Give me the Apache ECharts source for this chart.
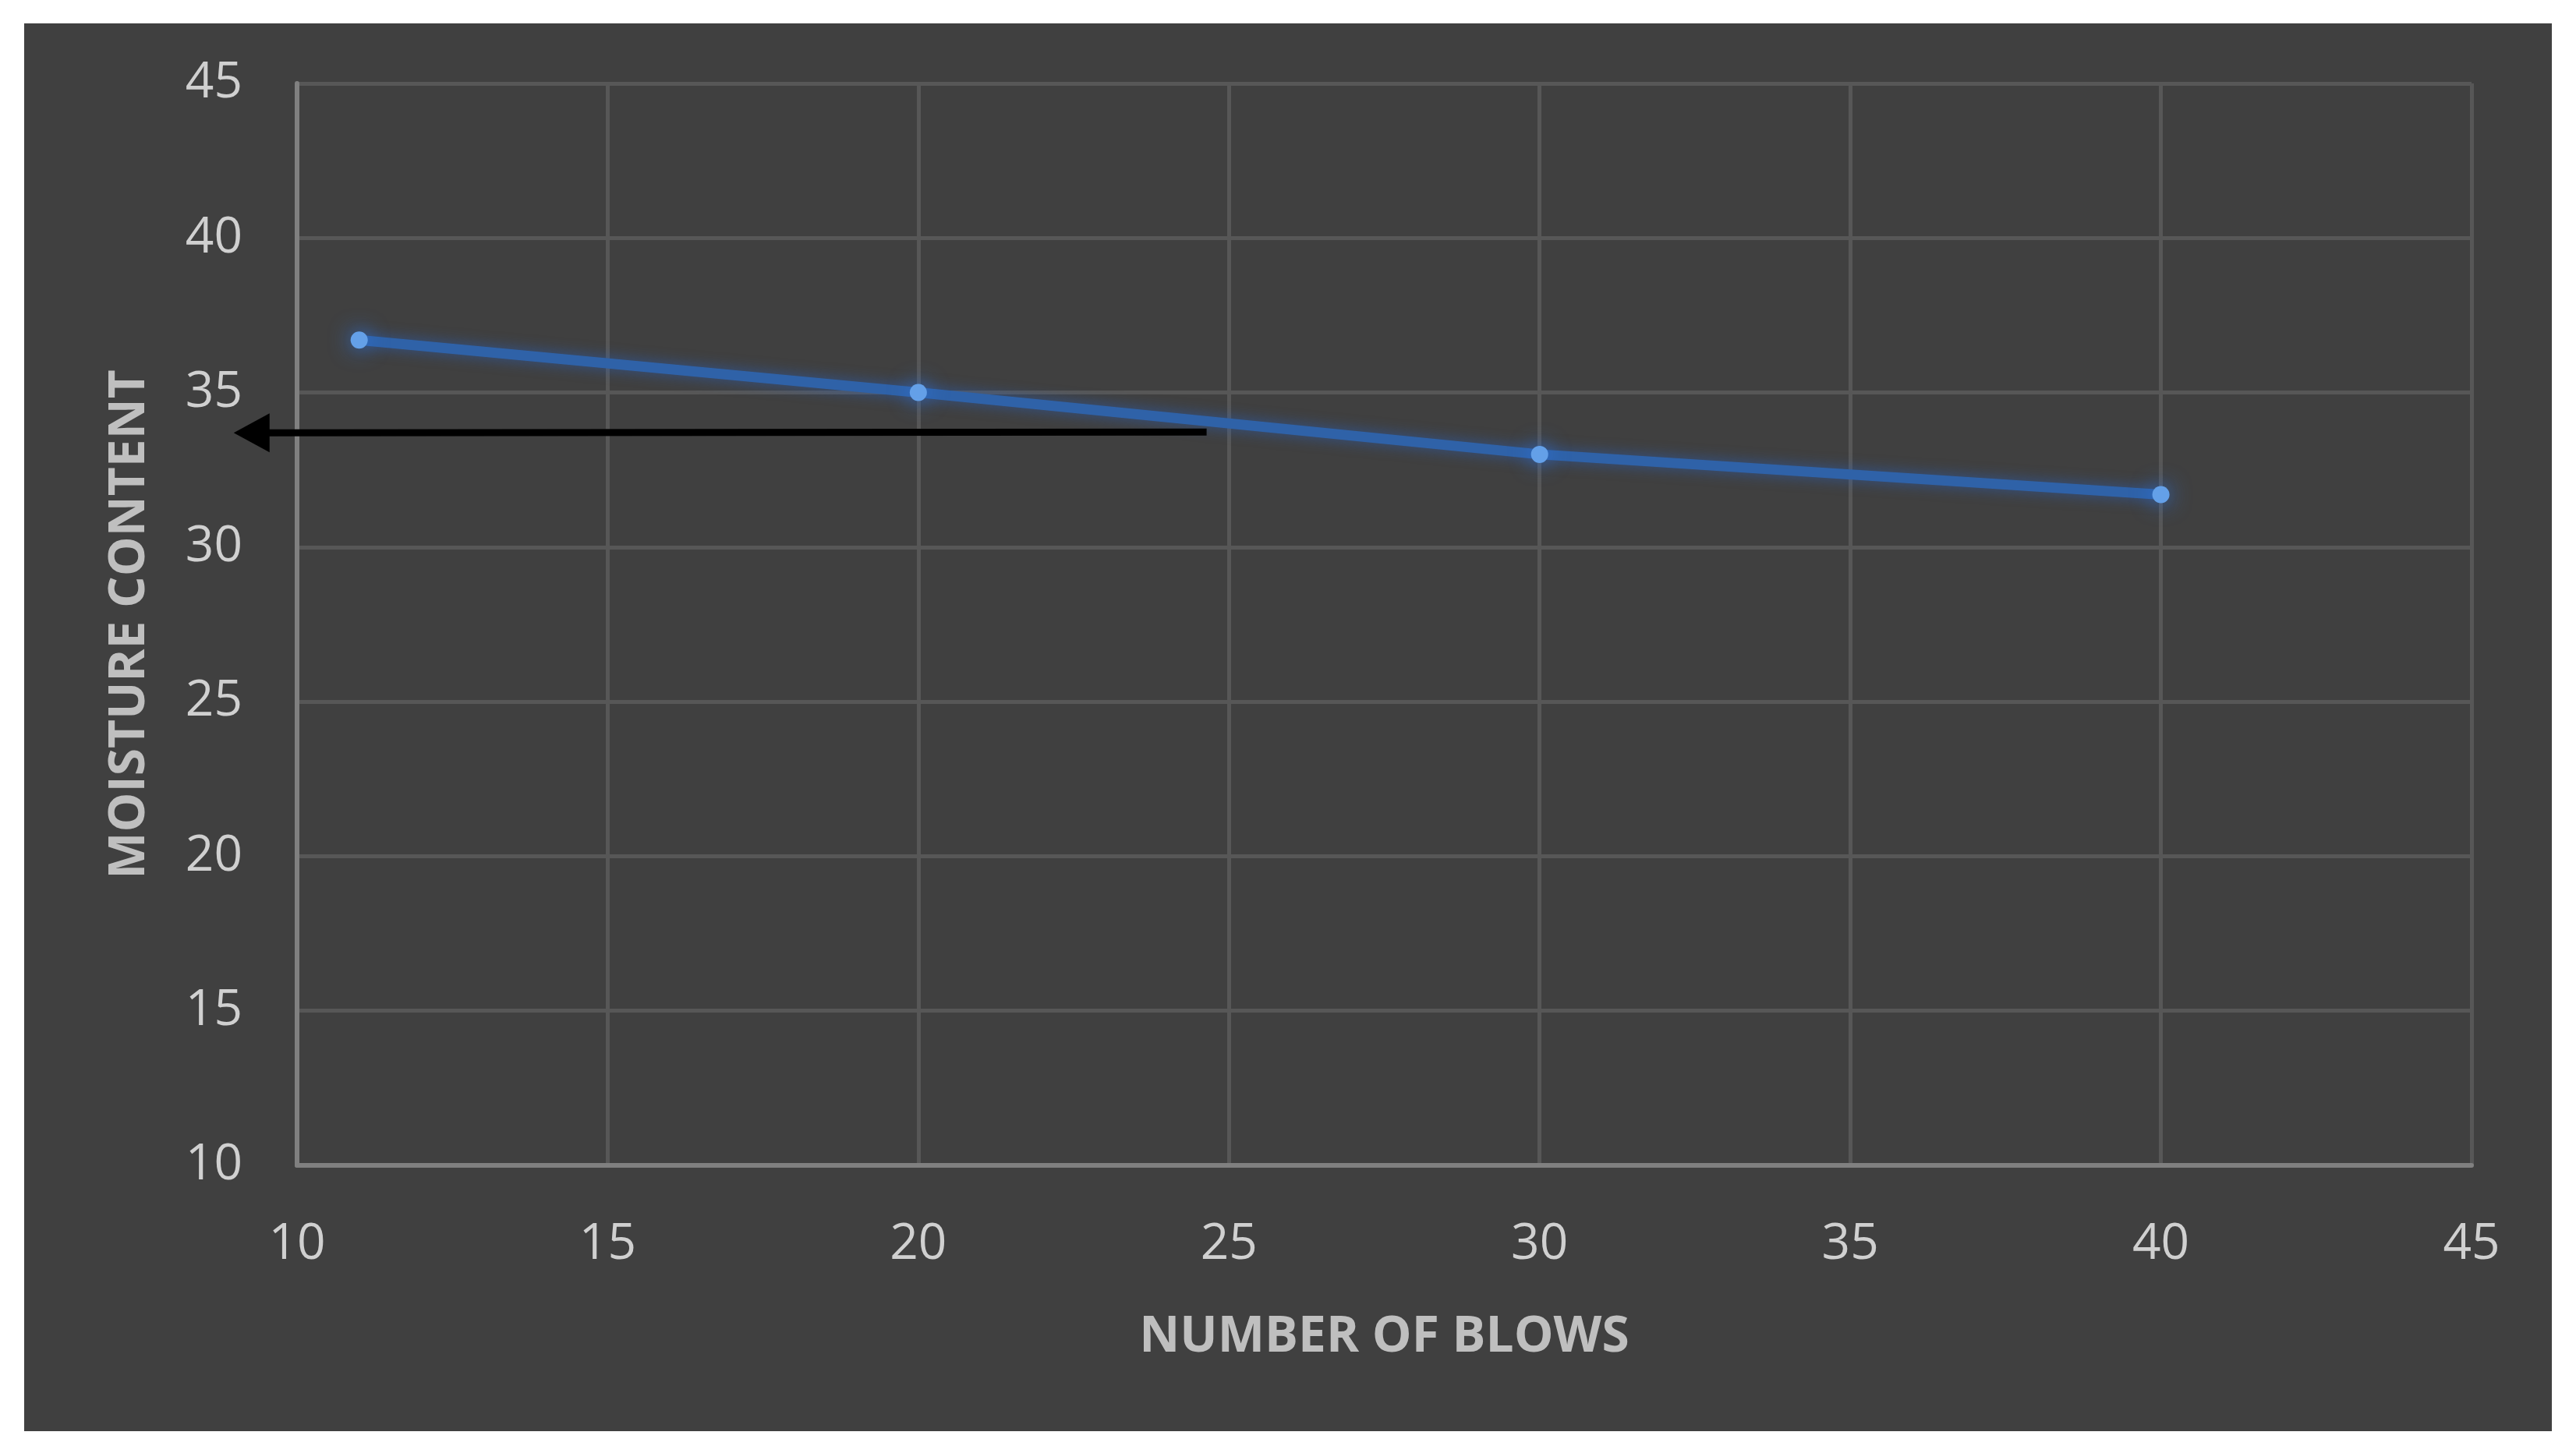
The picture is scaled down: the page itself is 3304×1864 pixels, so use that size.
<!DOCTYPE html>
<html>
<head>
<meta charset="utf-8">
<title>Moisture content vs number of blows</title>
<script src="https://cdn.jsdelivr.net/npm/echarts@6/dist/echarts.min.js"></script>
<style>
    html, body {
        margin: 0;
        padding: 0;
        background: #ffffff;
        width: 3304px;
        height: 1864px;
        overflow: hidden;
    }
    #chart-blows {
        position: absolute;
        left: 31px;
        top: 30px;
        width: 3242px;
        height: 1806px;
        background: #404040;
    }
</style>
</head>
<body>
<div id="chart-blows"></div>
<script>
// data
var blows = [11, 20, 30, 40];
var moisture = [36.7, 35.0, 33.0, 31.7];

var xTicks = [10, 15, 20, 25, 30, 35, 40, 45];
var yTicks = [10, 15, 20, 25, 30, 35, 40, 45];

// black annotation arrow, in data units (from -> to)
var arrowFrom = [24.64, 33.72];
var arrowTo = [8.98, 33.7];

var points = blows.map(function (b, i) {
    return [b, moisture[i]];
});

var dom_blows = document.getElementById('chart-blows');
var chart_blows = echarts.init(dom_blows, null, {
    renderer: 'canvas',
    useDirtyRect: false
});

var labelColor = '#d0d0d0';
var titleColor = '#bfbfbf';

var option_blows = {
    backgroundColor: '#404040',
    animation: false,
    grid: {
        left: 350,
        right: 103,
        top: 77,
        bottom: 341
    },
    xAxis: {
        type: 'value',
        min: xTicks[0],
        max: xTicks[xTicks.length - 1],
        interval: xTicks[1] - xTicks[0],
        name: 'NUMBER OF BLOWS',
        nameLocation: 'middle',
        nameGap: 189,
        nameTextStyle: {
            fontFamily: 'Open Sans',
            fontWeight: 'bold',
            fontSize: 64,
            color: titleColor
        },
        axisLine: {
            show: true,
            lineStyle: { color: '#808080', width: 6 }
        },
        axisTick: { show: false },
        axisLabel: {
            fontFamily: 'Open Sans',
            fontSize: 64,
            color: labelColor,
            margin: 70
        },
        splitLine: {
            show: true,
            lineStyle: { color: '#575757', width: 5 }
        }
    },
    yAxis: {
        type: 'value',
        min: yTicks[0],
        max: yTicks[yTicks.length - 1],
        interval: yTicks[1] - yTicks[0],
        name: 'MOISTURE CONTENT',
        nameLocation: 'middle',
        nameGap: 182,
        nameTextStyle: {
            fontFamily: 'Open Sans',
            fontWeight: 'bold',
            fontSize: 64,
            color: titleColor
        },
        axisLine: {
            show: true,
            lineStyle: { color: '#808080', width: 6 }
        },
        axisTick: { show: false },
        axisLabel: {
            fontFamily: 'Open Sans',
            fontSize: 64,
            color: labelColor,
            margin: 70,
            padding: [8, 0, 0, 0]
        },
        splitLine: {
            show: true,
            lineStyle: { color: '#575757', width: 5 }
        }
    },
    series: [
        {
            name: 'Moisture content',
            type: 'line',
            data: points,
            symbol: 'circle',
            symbolSize: 22,
            showSymbol: true,
            lineStyle: {
                color: '#2f62a8',
                width: 13,
                shadowBlur: 18,
                shadowColor: 'rgba(40, 100, 200, 0.6)'
            },
            itemStyle: {
                color: '#64a0e8',
                shadowBlur: 28,
                shadowColor: 'rgba(50, 120, 230, 0.95)'
            }
        }
    ]
};

chart_blows.setOption(option_blows);

// arrow drawn from data coordinates through the chart's own scales
var pFrom = chart_blows.convertToPixel({ gridIndex: 0 }, arrowFrom);
var pTo = chart_blows.convertToPixel({ gridIndex: 0 }, arrowTo);
var headLen = 46;
var headHalf = 25;

chart_blows.setOption({
    graphic: [
        {
            type: 'line',
            z: 100,
            shape: { x1: pFrom[0], y1: pFrom[1], x2: pTo[0] + headLen - 4, y2: pTo[1] },
            style: { stroke: '#000000', lineWidth: 9 }
        },
        {
            type: 'polygon',
            z: 100,
            shape: {
                points: [
                    [pTo[0], pTo[1]],
                    [pTo[0] + headLen, pTo[1] - headHalf],
                    [pTo[0] + headLen, pTo[1] + headHalf]
                ]
            },
            style: { fill: '#000000' }
        }
    ]
});

window.addEventListener('resize', chart_blows.resize);
</script>
</body>
</html>
